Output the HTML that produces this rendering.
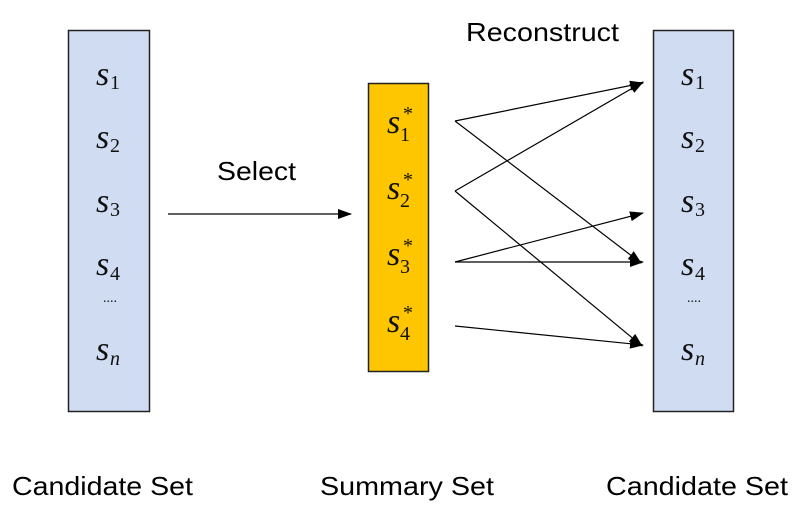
<!DOCTYPE html>
<html><head><meta charset="utf-8"><style>
body{margin:0;width:804px;height:512px;background:#fff;overflow:hidden}
.s{font-family:"Liberation Serif","DejaVu Serif",serif}
.a{font-family:"Liberation Sans",Arial,sans-serif}
</style></head><body>
<svg width="804" height="512" xmlns="http://www.w3.org/2000/svg">
<defs><marker id="a" markerWidth="14" markerHeight="10" refX="13" refY="5" orient="auto" markerUnits="userSpaceOnUse"><path d="M0,0 L14,5 L0,10 z" fill="#000"/></marker></defs>
<rect x="68.5" y="30.5" width="81" height="381" fill="#cfdcf1" stroke="#222" stroke-width="1.5"/>
<rect x="653.5" y="30.5" width="80" height="381" fill="#cfdcf1" stroke="#222" stroke-width="1.5"/>
<rect x="368.5" y="83.5" width="60" height="288" fill="#fec600" stroke="#222" stroke-width="1.5"/>
<g class="s" fill="#111">
<g font-size="34" font-style="italic">
<text x="96" y="85">s</text><text x="96" y="148">s</text><text x="96" y="212">s</text><text x="96" y="275">s</text><text x="96" y="360">s</text>
<text x="681" y="85">s</text><text x="681" y="148">s</text><text x="681" y="212">s</text><text x="681" y="275">s</text><text x="681" y="360">s</text>
<text x="387" y="133">s</text><text x="387" y="199">s</text><text x="387" y="265">s</text><text x="387" y="332">s</text>
</g>
<g font-size="20">
<text x="110" y="89">1</text><text x="110" y="152">2</text><text x="110" y="216">3</text><text x="110" y="280">4</text><text x="110" y="365" font-style="italic">n</text>
<text x="695" y="89">1</text><text x="695" y="152">2</text><text x="695" y="216">3</text><text x="695" y="280">4</text><text x="695" y="365" font-style="italic">n</text>
<text x="400" y="141">1</text><text x="400" y="207">2</text><text x="400" y="273">3</text><text x="400" y="340">4</text>
<text x="403" y="120">*</text><text x="403" y="186">*</text><text x="403" y="252">*</text><text x="403" y="319">*</text>
</g>
<text x="103" y="302" font-size="14">....</text><text x="687" y="302" font-size="14">....</text>
</g>
<g stroke="#000" stroke-width="1.2" marker-end="url(#a)">
<line x1="168" y1="214" x2="351" y2="214"/>
<line x1="455" y1="121" x2="643" y2="83"/>
<line x1="455" y1="121" x2="641" y2="263"/>
<line x1="455" y1="191" x2="643" y2="82"/>
<line x1="455" y1="191" x2="642" y2="346"/>
<line x1="455" y1="262" x2="643" y2="213"/>
<line x1="455" y1="262" x2="643" y2="262"/>
<line x1="455" y1="326" x2="643" y2="345"/>
</g>
<g class="a" font-size="26" fill="#000">
<text x="217" y="180" textLength="79" lengthAdjust="spacingAndGlyphs">Select</text>
<text x="466" y="41" textLength="153" lengthAdjust="spacingAndGlyphs">Reconstruct</text>
<text x="12" y="495" textLength="181" lengthAdjust="spacingAndGlyphs">Candidate Set</text>
<text x="320" y="495" textLength="174" lengthAdjust="spacingAndGlyphs">Summary Set</text>
<text x="606" y="495" textLength="182" lengthAdjust="spacingAndGlyphs">Candidate Set</text>
</g>
</svg>
</body></html>
